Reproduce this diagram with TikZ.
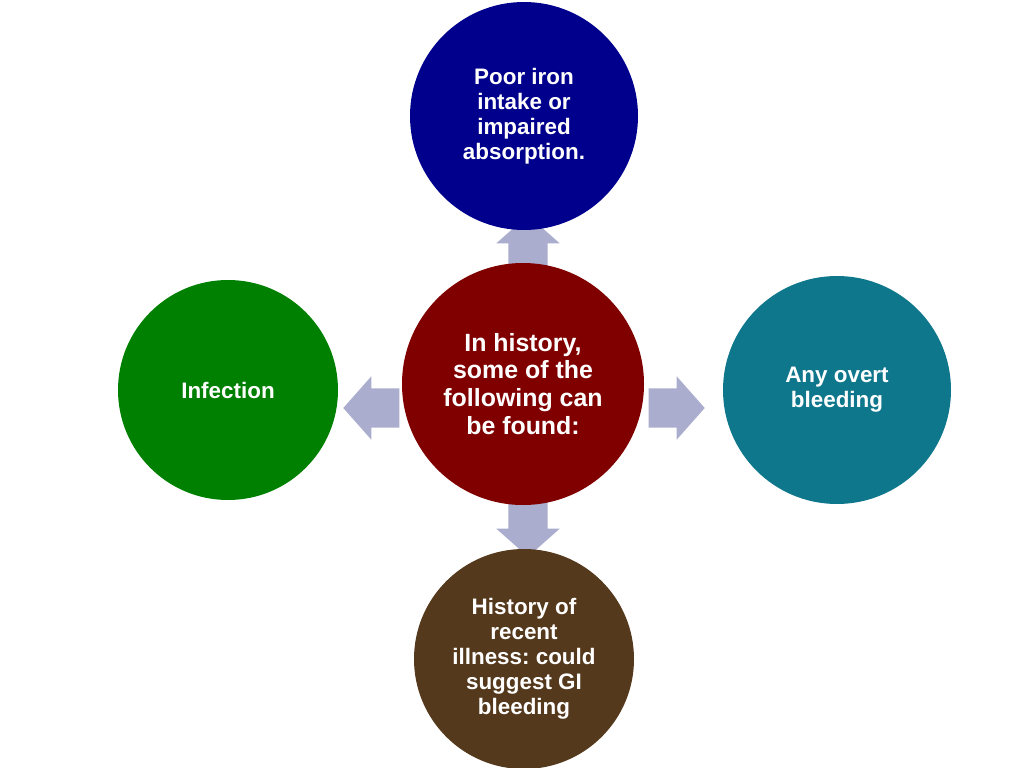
\documentclass[tikz,border=0pt]{standalone}
\usepackage{fontspec}
\setmainfont{Liberation Sans}
\frenchspacing
\usetikzlibrary{shapes.arrows}
\definecolor{navyc}{RGB}{0,0,140}
\definecolor{maroonc}{RGB}{128,0,0}
\definecolor{greenc}{RGB}{0,128,0}
\definecolor{tealc}{RGB}{15,119,140}
\definecolor{brownc}{RGB}{84,57,28}
\definecolor{arrowc}{RGB}{170,173,205}
\begin{document}
\begin{tikzpicture}[x=1bp, y=-1bp,
  bubble/.style = {circle, draw=none, text=white, align=center, inner sep=0pt, font=\bfseries\fontsize{22.5}{25}\selectfont},
  block/.style = {single arrow, draw=none, fill=arrowc, inner xsep=0pt, inner ysep=19.5bp, single arrow head extend=12bp, single arrow tip angle=97, minimum height=56bp}]
\useasboundingbox (0,0) rectangle (1024,768);
\node[block, rotate=90] (up) at (528,252) {};
\node[block, rotate=180] (left) at (380,408) {};
\node[block] (right) at (668,408) {};
\node[block, rotate=-90] (down) at (528,520) {};
\node[bubble, fill=maroonc, minimum size=242bp, font=\bfseries\fontsize{25}{28}\selectfont] (hist) at (523,384) {In history,\\some of the\\following can\\be found:};
\node[bubble, fill=navyc, minimum size=228bp] (intake) at (524,116) {Poor iron\\intake or\\impaired\\absorption.};
\node[bubble, fill=greenc, minimum size=220bp] (infect) at (228,390) {Infection};
\node[bubble, fill=tealc, minimum size=228bp] (bleed) at (837,390) {Any overt\\bleeding};
\node[bubble, fill=brownc, minimum size=220bp] (illness) at (524,659) {History of\\recent\\illness: could\\suggest GI\\bleeding};
\end{tikzpicture}
\end{document}
